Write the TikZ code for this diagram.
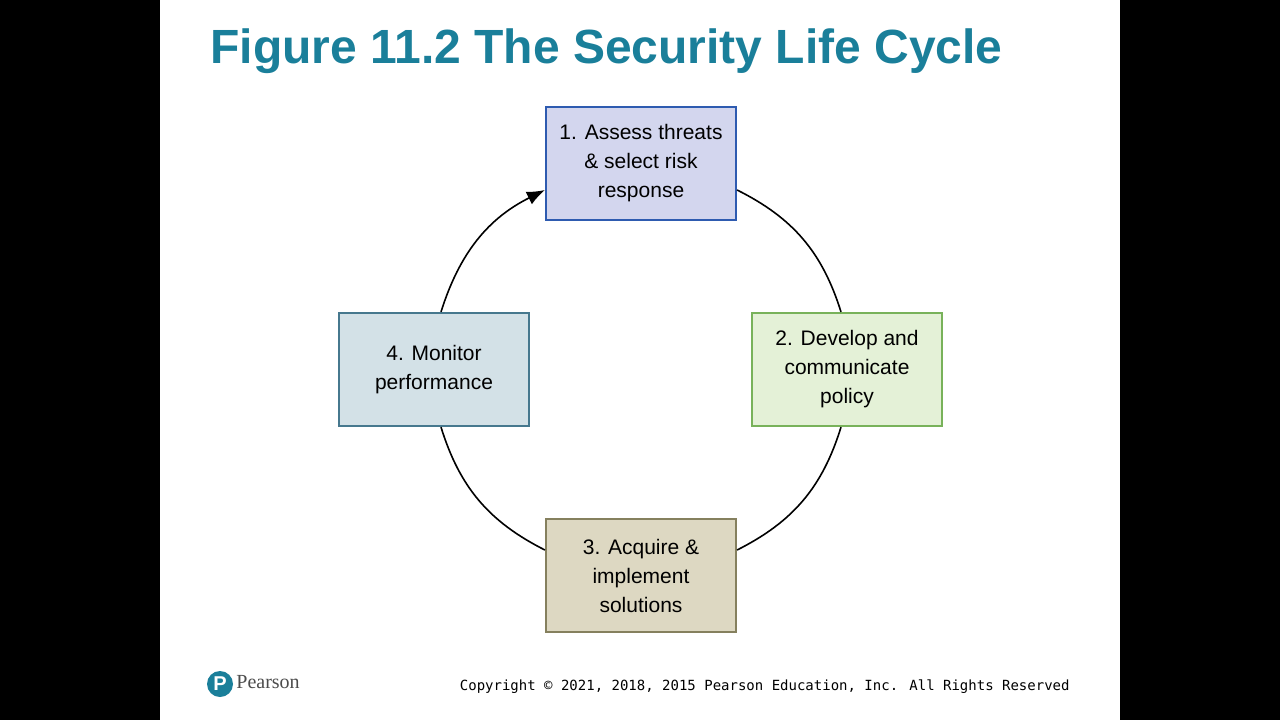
\documentclass[tikz,border=0pt]{standalone}
\usepackage{fontspec}
\setmainfont{Liberation Sans}
\newfontfamily\copyfont{DejaVu Sans Mono}
\newfontfamily\logofont{Liberation Serif}
\usetikzlibrary{arrows.meta}
\definecolor{titleteal}{HTML}{1A7F9A}
\definecolor{assessfill}{HTML}{D3D6EE}
\definecolor{assessdraw}{HTML}{2E5BB0}
\definecolor{policyfill}{HTML}{E4F1D7}
\definecolor{policydraw}{HTML}{78B25A}
\definecolor{acquirefill}{HTML}{DDD8C2}
\definecolor{acquiredraw}{HTML}{85805E}
\definecolor{monitorfill}{HTML}{D3E1E7}
\definecolor{monitordraw}{HTML}{46788E}
\begin{document}
\begin{tikzpicture}[x=0.5pt,y=0.5pt,
  phase/.style={shape=rectangle,minimum width=95pt,minimum height=56.5pt,line width=1.1pt,align=center,font=\fontsize{10.5}{14.5}\selectfont},
  cycle/.style={line width=0.8pt,bend left=23}]
\useasboundingbox (0,0) rectangle (1280,720);
\fill[black] (0,0) rectangle (1280,720);
\fill[white] (160,0) rectangle (1120,720);

\node[anchor=west,text=titleteal,font=\fontsize{24}{28}\selectfont\bfseries,inner sep=0pt] (title) at (210,669) {Figure 11.2 The Security Life Cycle};

\node[phase,fill=assessfill,draw=assessdraw] (assess) at (641,556.5) {1. Assess threats\\\& select risk\\response};
\node[phase,fill=policyfill,draw=policydraw] (policy) at (847,350.5) {2. Develop and\\communicate\\policy};
\node[phase,fill=acquirefill,draw=acquiredraw] (acquire) at (641,144.5) {3. Acquire \&\\implement\\solutions};
\node[phase,fill=monitorfill,draw=monitordraw] (monitor) at (434,350.5) {4. Monitor\\performance};

\draw[cycle] ([yshift=-13.25pt]assess.east) to ([xshift=-3pt]policy.north);
\draw[cycle] ([xshift=-3pt]policy.south) to ([yshift=12.75pt]acquire.east);
\draw[cycle] ([yshift=12.75pt]acquire.west) to ([xshift=3.5pt]monitor.south);
\draw[cycle,-{Latex[length=9pt,width=7pt]}] ([xshift=3.5pt]monitor.north) to ([yshift=-13.25pt]assess.west);

\node[circle,fill=titleteal,minimum size=13pt,inner sep=0pt,text=white,font=\bfseries\fontsize{10}{10}\selectfont] (logo) at (220,36) {P};
\node[anchor=west,text=black!70,font=\logofont\fontsize{10}{10}\selectfont,inner sep=0pt] (pearson) at (236,38) {Pearson};
\node[anchor=east,font=\copyfont\fontsize{7}{9}\selectfont,inner sep=0pt] (copy) at (1070,33) {Copyright © 2021, 2018, 2015 Pearson Education, Inc. All Rights Reserved};
\end{tikzpicture}
\end{document}
